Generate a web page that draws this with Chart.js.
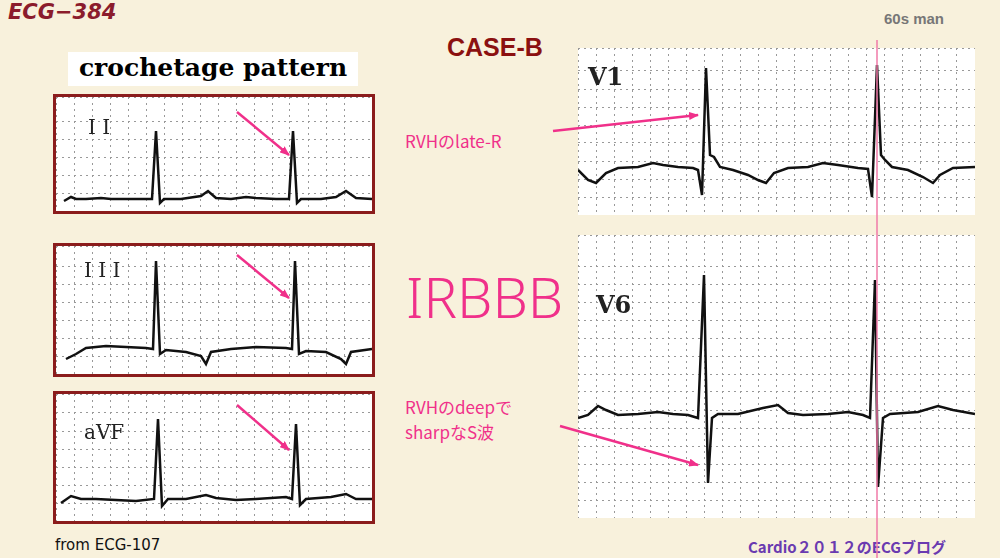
<!DOCTYPE html>
<html><head><meta charset="utf-8">
<script src="https://cdn.jsdelivr.net/npm/chart.js@4"></script>
<style>
body{margin:0;width:1000px;height:558px;background:#f8f1dc;position:relative;overflow:hidden;font-family:"Noto Sans CJK JP","Noto Sans",sans-serif}
.p{position:absolute;background:#fff;box-sizing:border-box}
.b{border:3px solid #8b1c1c}
.t{position:absolute;white-space:nowrap}
.lab{position:absolute;font-family:"DejaVu Serif",serif;font-weight:bold;font-size:20px;color:#222}
</style></head><body>
<div class="t" style="left:8px;top:0px;font:italic bold 21px 'DejaVu Sans';color:#8b1c2c">ECG−384</div>
<div class="t" style="left:884px;top:10px;font:bold 15px 'Liberation Sans';color:#777">60s man</div>
<div class="t" style="left:447px;top:33px;font:bold 25px 'Liberation Sans Narrow','Liberation Sans';color:#8b1010">CASE-B</div>
<div class="t" style="left:68px;top:52px;width:290px;height:34px;background:#fff;font:bold 25px 'DejaVu Serif';text-align:center;line-height:32px">crochetage pattern</div>

<div class="p b" style="left:53px;top:94px;width:322px;height:120px"><canvas id="c2"></canvas></div>
<div class="p b" style="left:53px;top:243px;width:322px;height:134px"><canvas id="c3"></canvas></div>
<div class="p b" style="left:53px;top:391px;width:322px;height:133px"><canvas id="cf"></canvas></div>
<div class="p" style="left:578px;top:48px;width:397px;height:167px"><canvas id="cv1"></canvas></div>
<div class="p" style="left:578px;top:235px;width:397px;height:283px"><canvas id="cv6"></canvas></div>

<div class="lab" style="left:88px;top:115px;font-weight:normal">I I</div>
<div class="lab" style="left:84px;top:258px;font-weight:normal">I I I</div>
<div class="lab" style="left:84px;top:420px;font-weight:normal">aVF</div>
<div class="lab" style="left:588px;top:62px;font-size:24px">V1</div>
<div class="lab" style="left:596px;top:290px;font-size:24px">V6</div>

<div class="t" style="left:405px;top:128px;font-size:17px;color:#f0308a">RVHのlate-R</div>
<div class="t" style="left:406px;top:258px;font:300 56px 'Noto Sans';color:#f0308a">IRBBB</div>
<div class="t" style="left:405px;top:394px;font-size:17px;color:#f0308a;line-height:25px">RVHのdeepで<br>sharpなS波</div>
<div class="t" style="left:55px;top:536px;font:15px 'DejaVu Sans';color:#111">from ECG-107</div>
<div class="t" style="left:748px;top:536px;font:bold 15px 'Noto Sans CJK JP';color:#6a3ab0">Cardio２０１２のECGブログ</div>

<svg width="1000" height="558" style="position:absolute;left:0;top:0;pointer-events:none">
<defs><marker id="a" markerWidth="10" markerHeight="8" refX="9" refY="4" orient="auto" markerUnits="userSpaceOnUse"><path d="M0,0L10,4L0,8z" fill="#f0308a"/></marker></defs>
<line x1="877" y1="40" x2="877" y2="558" stroke="#f07aa8" stroke-width="1.5"/>
<g stroke="#f0308a" stroke-width="2.5" marker-end="url(#a)">
<line x1="237" y1="112" x2="289" y2="155"/>
<line x1="237" y1="255" x2="289" y2="298"/>
<line x1="237" y1="405" x2="289" y2="450"/>
<line x1="553" y1="131" x2="698" y2="115"/>
<line x1="560" y1="426" x2="698" y2="465"/>
</g></svg>

<script>
const leadII=[[8,10],[15,14],[20,12],[30,12],[45,13],[55,12],[65,12],[80,12],[96,12],[100,80],[104,8],[108,12],[125,12],[145,15],[152,20],[160,13],[175,12],[190,14],[200,13],[220,12],[233,12],[237,80],[241,8],[245,12],[265,12],[280,14],[290,20],[300,13],[316,12]];
const leadIII=[[10,15],[20,20],[30,26],[50,28],[70,27],[90,26],[97,25],[100,113],[104,20],[110,24],[130,22],[145,18],[150,10],[155,22],[175,25],[200,27],[230,26],[236,25],[239,113],[243,20],[250,23],[270,22],[285,15],[290,10],[295,22],[316,25]];
const leadAVF=[[5,18],[15,25],[25,22],[40,22],[60,21],[80,20],[98,22],[102,102],[106,15],[112,22],[130,22],[150,26],[160,23],[180,21],[200,22],[230,24],[236,22],[240,97],[244,16],[250,22],[275,24],[290,27],[300,22],[316,22]];
const leadV1=[[0,45],[10,35],[18,32],[28,42],[40,47],[60,48],[75,52],[85,50],[100,48],[115,47],[120,45],[124,20],[128,147],[132,60],[136,58],[142,48],[155,45],[170,40],[180,35],[188,32],[196,42],[210,47],[230,48],[245,52],[260,50],[280,47],[290,46],[294,18],[299,150],[303,60],[307,55],[314,48],[330,45],[345,38],[355,32],[362,40],[375,47],[397,48]];
const leadV6=[[0,100],[10,103],[20,112],[28,108],[40,103],[60,104],[80,106],[95,104],[110,103],[120,100],[126,243],[130,35],[134,100],[140,104],[160,104],[185,110],[200,113],[210,105],[225,103],[250,104],[270,106],[285,103],[292,100],[297,238],[300,31],[305,100],[312,104],[340,106],[360,112],[375,108],[397,104]];
function mk(id,data,w,h){
  const cv=document.getElementById(id);cv.width=w;cv.height=h;
  new Chart(cv,{type:'scatter',data:{datasets:[{data:data.map(p=>({x:p[0],y:p[1]})),showLine:true,pointRadius:0,borderColor:'#111',borderWidth:2.5}]},
  options:{responsive:false,animation:false,layout:{padding:0},plugins:{legend:{display:false},tooltip:{enabled:false}},
  scales:{x:{min:0,max:w,ticks:{display:false,stepSize:18},grid:{color:'#999',lineWidth:1,drawTicks:false},border:{display:false,dash:[2,4]}},
          y:{min:0,max:h,ticks:{display:false,stepSize:18},grid:{color:'#999',lineWidth:1,drawTicks:false},border:{display:false,dash:[2,4]}}}}});
}
mk('c2',leadII,316,114);mk('c3',leadIII,316,128);mk('cf',leadAVF,316,127);
mk('cv1',leadV1,397,167);mk('cv6',leadV6,397,283);
</script></body></html>
